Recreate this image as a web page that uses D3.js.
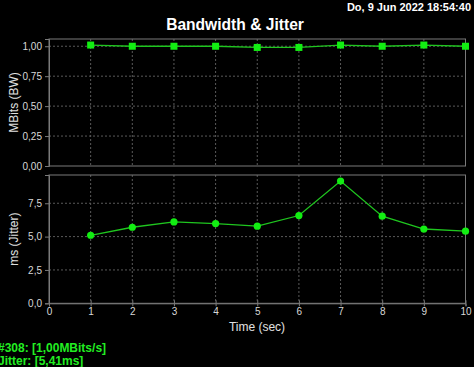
<!DOCTYPE html>
<html><head><meta charset="utf-8">
<script src="https://cdn.jsdelivr.net/npm/d3@7"></script>
<style>html,body{margin:0;padding:0;background:#000;overflow:hidden}</style>
</head><body>
<svg id="c" width="474" height="367"></svg>
<script>
const times = [1,2,3,4,5,6,7,8,9,10];
const bandwidth = [1.01,1.00,1.00,1.00,0.99,0.99,1.01,1.00,1.01,1.00];
const jitter = [5.1,5.7,6.1,5.98,5.78,6.58,9.16,6.53,5.57,5.41];
const xTicks = [0,1,2,3,4,5,6,7,8,9,10];
const bwTicks = [0,0.25,0.5,0.75,1.0];
const jTicks = [0,2.5,5,7.5];
const title = "Bandwidth & Jitter";
const dateText = "Do, 9 Jun 2022 18:54:40";
const bwLabel = "MBits (BW)";
const jLabel = "ms (Jitter)";
const xLabel = "Time (sec)";
const status1 = "#308: [1,00MBits/s]";
const status2 = "Jitter: [5,41ms]";

const svg = d3.select("#c");
const font = "Arial, 'Liberation Sans', sans-serif";
const fmtDe = (d, n) => d.toFixed(n).replace(".", ",");

const x = d3.scaleLinear().domain([0,10]).range([49,465.5]);
const yBW = d3.scaleLinear().domain([0, d3.max(bandwidth)*1.05]).range([166,39]);
const yJ = d3.scaleLinear().domain([0, d3.max(jitter)*1.05]).range([303.3,175]);

function panel(y, ticks, nd, data, marker, label, showX) {
  const g = svg.append("g");
  const [y0, y1] = y.range();
  g.selectAll(".vg").data(xTicks.filter(t=>t>0&&t<10)).join("line")
    .attr("x1", d=>x(d)).attr("x2", d=>x(d)).attr("y1", y1).attr("y2", y0)
    .attr("stroke", "#5a5a5a").attr("stroke-dasharray", "2,2").attr("stroke-width", 1);
  g.selectAll(".hg").data(ticks.filter(t=>t>0)).join("line")
    .attr("x1", x(0)).attr("x2", x(10)).attr("y1", d=>y(d)).attr("y2", d=>y(d))
    .attr("stroke", "#5a5a5a").attr("stroke-dasharray", "2,2").attr("stroke-width", 1);
  g.append("rect").attr("x", x(0)).attr("y", y1).attr("width", x(10)-x(0)).attr("height", y0-y1)
    .attr("fill", "none").attr("stroke", "#7a7a7a").attr("stroke-width", 1);
  const ya = d3.axisLeft(y).tickValues(ticks).tickSize(4).tickFormat(d=>fmtDe(d, nd));
  const ag = g.append("g").attr("transform", `translate(${x(0)},0)`).call(ya);
  ag.select(".domain").attr("stroke", "#7a7a7a");
  ag.selectAll(".tick line").attr("stroke", "#7a7a7a");
  ag.selectAll("text").attr("fill", "#d8d8d8").attr("font-size", 10).attr("font-family", font);
  if (showX) {
    const xa = d3.axisBottom(x).tickValues(xTicks).tickSize(3).tickFormat(d=>d);
    const xg = g.append("g").attr("transform", `translate(0,${y0})`).call(xa);
    xg.select(".domain").attr("stroke", "#7a7a7a");
    xg.selectAll(".tick line").attr("stroke", "#7a7a7a").attr("y1", -3).attr("y2", 3);
    xg.selectAll("text").attr("fill", "#d8d8d8").attr("font-size", 10).attr("font-family", font).attr("dy", "0.6em");
  }
  const pts = times.map((t,i)=>[t, data[i]]);
  g.append("path").datum(pts)
    .attr("d", d3.line().x(d=>x(d[0])).y(d=>y(d[1])))
    .attr("fill", "none").attr("stroke", "#1fc61f").attr("stroke-width", 1.3);
  if (marker === "square") {
    g.selectAll(".m").data(pts).join("rect")
      .attr("x", d=>x(d[0])-3.5).attr("y", d=>y(d[1])-3.5).attr("width", 7).attr("height", 7)
      .attr("fill", "#12ee12");
  } else {
    g.selectAll(".m").data(pts).join("circle")
      .attr("cx", d=>x(d[0])).attr("cy", d=>y(d[1])).attr("r", 3.6)
      .attr("fill", "#12ee12");
  }
  g.append("text").attr("transform", `translate(18,${(y0+y1)/2}) rotate(-90)`)
    .attr("text-anchor", "middle").attr("fill", "#e0e0e0").attr("font-size", 12).attr("font-family", font)
    .text(label);
}

svg.append("rect").attr("width", 474).attr("height", 367).attr("fill", "#000");

panel(yBW, bwTicks, 2, bandwidth, "square", bwLabel, false);
panel(yJ, jTicks, 1, jitter, "circle", jLabel, true);

svg.append("text").attr("x", 235).attr("y", 30).attr("text-anchor", "middle")
  .attr("fill", "#fff").attr("font-weight", "bold").attr("font-size", 15.6).attr("font-family", font).text(title);
svg.append("text").attr("x", 471).attr("y", 11).attr("text-anchor", "end")
  .attr("fill", "#fff").attr("font-weight", "bold").attr("font-size", 11).attr("font-family", font).text(dateText);
svg.append("text").attr("x", 257).attr("y", 331).attr("text-anchor", "middle")
  .attr("fill", "#e0e0e0").attr("font-size", 12).attr("font-family", font).text(xLabel);
svg.append("text").attr("x", -2).attr("y", 352).attr("fill", "#22ee22").attr("font-weight", "bold")
  .attr("font-size", 12).attr("font-family", font).text(status1);
svg.append("text").attr("x", -2).attr("y", 365).attr("fill", "#22ee22").attr("font-weight", "bold")
  .attr("font-size", 12).attr("font-family", font).text(status2);
</script>
</body></html>
